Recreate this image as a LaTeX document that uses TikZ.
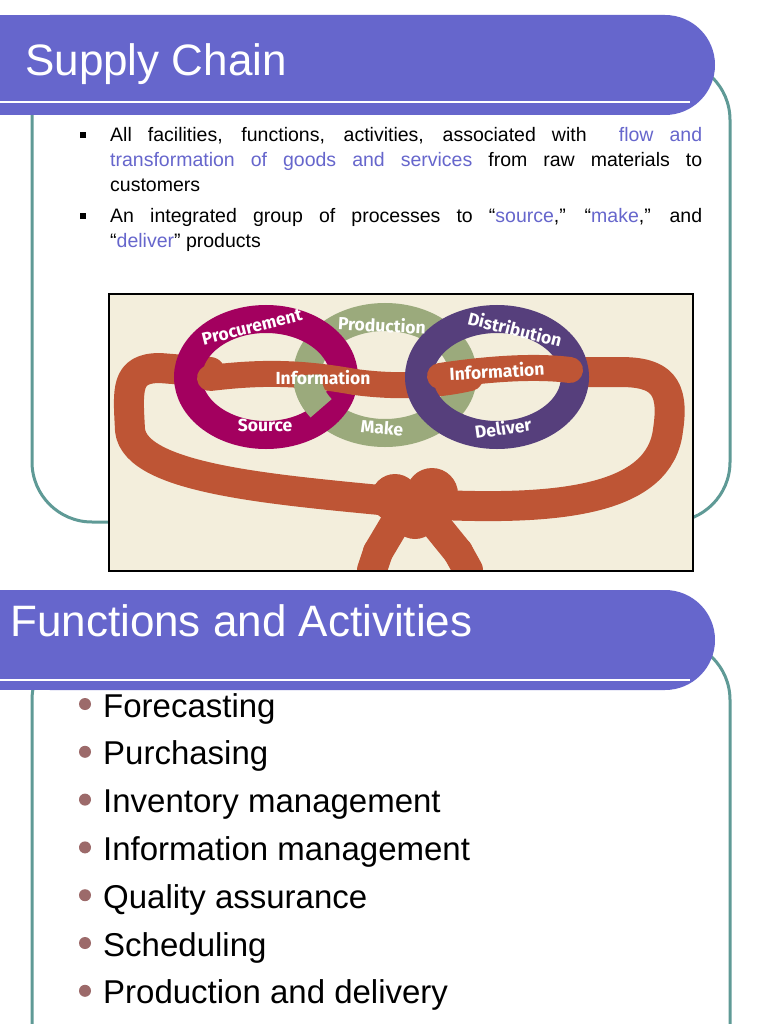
\documentclass[tikz,border=0pt]{standalone}
\usepackage{fontspec}
\setmainfont{Liberation Sans}
\newfontfamily\ringfont{Fira Sans}
\usetikzlibrary{calc}
\definecolor{band}{HTML}{6666CC}
\definecolor{teal}{HTML}{5F9A96}
\definecolor{hl}{HTML}{6666CC}
\definecolor{rope}{HTML}{BE5535}
\definecolor{mag}{HTML}{A3005F}
\definecolor{grn}{HTML}{9BAA7C}
\definecolor{pur}{HTML}{563F7C}
\definecolor{bg}{HTML}{F3EEDC}
\definecolor{dot}{HTML}{9C6A6A}
\tikzset{
 hdr/.style={fill=band,draw=none},
 frame/.style={draw=teal,line width=3pt,rounded corners=60pt},
 title/.style={anchor=base west,text=white,font=\fontsize{44}{44}\selectfont,inner sep=0pt},
 para/.style={anchor=north west,text width=592pt,align=justify,font=\fontsize{19.5}{25}\selectfont,inner sep=0pt},
 item/.style={anchor=base west,font=\fontsize{33}{33}\selectfont,inner sep=0pt},
 ring/.style={line width=28pt},
 rl/.style={text=white,font=\ringfont\bfseries\fontsize{17.5}{17.5}\selectfont,inner sep=0pt},
 ropel/.style={draw=rope,line width=30pt,line cap=round,line join=round},
}
\begin{document}
\begin{tikzpicture}[x=1pt,y=-1pt]
\useasboundingbox (0,0) rectangle (768,1024);
\fill[white] (0,0) rectangle (768,1024);
% slide 1
\draw[frame] (32,60) rectangle (730,522);
\path[hdr,rounded corners=50pt] (0,15) -- (715,15) -- (715,115) -- (0,115) -- cycle;
\fill[band] (0,15) rectangle (600,115);
\draw[white,line width=2.5pt] (0,102) -- (690,102);
\node[title] (t1) at (25,76) {Supply Chain};
\fill (80,132) rectangle (86,138);
\fill (80,213) rectangle (86,219);
\node[para] (p1) at (110,127) {All facilities, functions, activities, associated with \ {\color{hl}flow and\linebreak transformation of goods and services} from raw materials to\linebreak customers};
\node[para] (p2) at (110,208) {An integrated group of processes to ``{\color{hl}source},'' ``{\color{hl}make},'' and\linebreak ``{\color{hl}deliver}'' products};
% picture
\node[draw=black,line width=1.5pt,fill=bg,minimum width=584pt,minimum height=277pt,anchor=north west,inner sep=0pt] (pic) at (108,293) {};
\begin{scope}
\clip (109,294) rectangle (691,569);
\draw[ropel] (210,372) -- (160,368) .. controls (125,368) and (128,390) .. (130,430) .. controls (135,480) and (280,490) .. (400,502) -- (440,505) .. controls (560,510) and (660,500) .. (668,430) .. controls (675,385) and (660,372) .. (620,372) -- (580,372);
\fill[rope] (395,498) circle (24pt);
\fill[rope] (432,494) circle (26pt);
\fill[rope] (415,515) circle (24pt);
\draw[ropel] (400,515) -- (378,552);
\draw[ropel] (428,515) -- (458,552);
\draw[ropel] (378,552) -- (372,570);
\draw[ropel] (458,552) -- (468,570);
\draw[grn,ring] (385,375) ellipse (78pt and 58pt);
\draw[mag,ring] (266,377) ellipse (78pt and 58pt);
\draw[ropel,line width=26pt] (210,378) .. controls (260,372) and (300,372) .. (355,382);
\draw[grn,ring] (385,375) ++(-78,0) arc[start angle=180,end angle=215,x radius=78pt,y radius=58pt];
\draw[ropel,line width=26pt] (355,382) .. controls (400,388) and (440,385) .. (470,378);
\draw[pur,ring] (497,377) ellipse (78pt and 58pt);
\draw[ropel,line width=26pt] (440,376) .. controls (480,370) and (530,365) .. (570,370);
\end{scope}
\node[rl,rotate=14] (lp) at (252,327) {Procurement};
\node[rl,rotate=-3] (lpr) at (382,325) {Production};
\node[rl,rotate=-14] (ld) at (515,329) {Distribution};
\node[rl] (ls) at (265,425) {Source};
\node[rl,rotate=-4] (lm) at (382,428) {Make};
\node[rl,rotate=8] (lde) at (503,428) {Deliver};
\node[rl] (li1) at (323,378) {Information};
\node[rl,rotate=3] (li2) at (497,371) {Information};
% slide 2
\draw[frame] (32,640) rectangle (730,1100);
\path[hdr,rounded corners=50pt] (0,590) -- (715,590) -- (715,690) -- (0,690) -- cycle;
\fill[band] (0,590) rectangle (600,690);
\draw[white,line width=2.5pt] (0,680) -- (690,680);
\node[title] (t2) at (10,636) {Functions and Activities};
\foreach \t [count=\i from 0] in {Forecasting,Purchasing,Inventory management,Information management,Quality assurance,Scheduling,Production and delivery}{
  \fill[dot] (85,{704+\i*47.8}) circle (6pt);
  \node[item] (it\i) at (103,{717+\i*47.8}) {\t};
}
\end{tikzpicture}
\end{document}
